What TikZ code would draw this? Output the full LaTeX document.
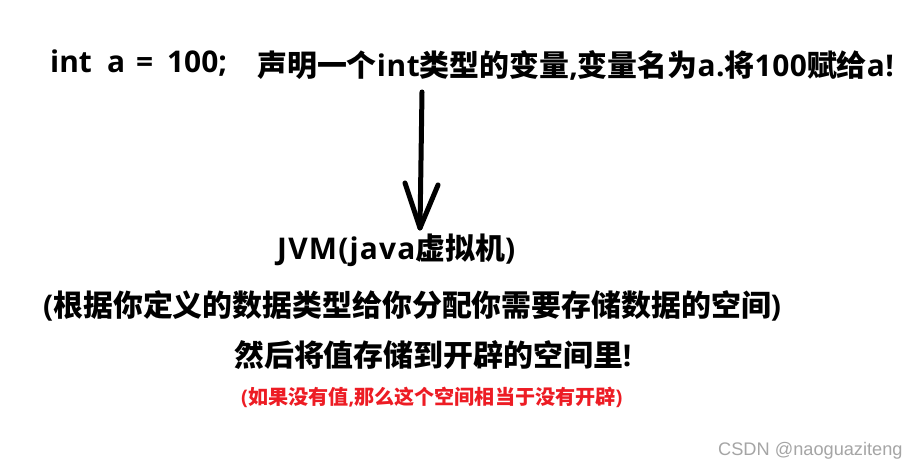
\documentclass[tikz,border=0pt]{standalone}
\usepackage{fontspec}
\setmainfont{Open Sans}
\newfontfamily\cjk{Noto Sans CJK SC}
\newfontfamily\wmfont{Liberation Sans}
\newcommand{\zh}[1]{{\cjk #1}}
\newcommand{\wl}[1]{{\addfontfeatures{LetterSpace=2}#1}}
\definecolor{pred}{RGB}{237,28,36}
\definecolor{wmgray}{RGB}{165,165,165}
\begin{document}
\begin{tikzpicture}[x=1pt,y=-1pt,
  txt/.style={inner sep=0pt, anchor=base west, font=\bfseries\fontsize{29.9}{32}\selectfont},
  smalltxt/.style={inner sep=0pt, anchor=base west, font=\bfseries\fontsize{20.1}{22}\selectfont, text=pred},
  wmtxt/.style={inner sep=0pt, anchor=base west, font=\wmfont\fontsize{18.2}{20}\selectfont, text=wmgray},
  stroke/.style={line width=5pt, line cap=round, line join=round, black}]
\fill[white] (0,0) rectangle (921,468);
\useasboundingbox (0,0) rectangle (921,468);
\node[txt] (decl) at (50,72.7) {\makebox[57pt][l]{int}\makebox[29pt][l]{a}\makebox[31pt][l]{=}100;};
\node[txt] (desc) at (257,77) {\zh{声明一个}\wl{int}\zh{类型的变量}\wl{,}\zh{变量名为}\wl{a.}\zh{将}\wl{100}\zh{赋给}\wl{a!}};
\coordinate (top) at (422,92);
\coordinate (tip) at (420,228);
\coordinate (lb) at (405,183);
\coordinate (rb) at (438,185);
\draw[stroke] (top) -- (tip);
\draw[stroke] (lb) -- (tip) -- (rb);
\node[txt] (jvm) at (277,259) {{\addfontfeatures{LetterSpace=4}JVM(java}\zh{虚拟机})};
\node[txt] (alloc) at (43,316.5) {(\zh{根据你定义的数据类型给你分配你需要存储数据的空间})};
\node[txt] (store) at (234,366.5) {\zh{然后将值存储到开辟的空间里}!};
\node[smalltxt] (note) at (241,404.5) {(\zh{如果没有值},\zh{那么这个空间相当于没有开辟})};
\node[wmtxt] (csdn) at (718,455.5) {CSDN @naoguaziteng};
\end{tikzpicture}
\end{document}
